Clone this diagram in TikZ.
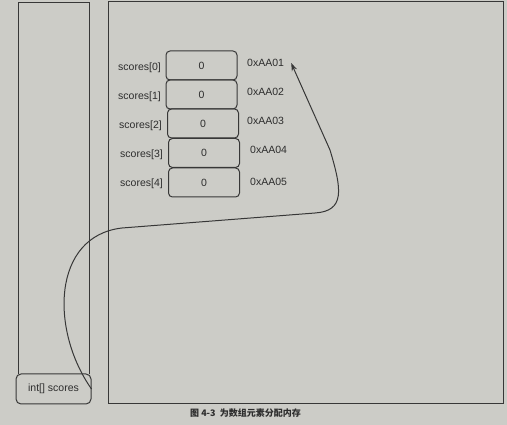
\documentclass[tikz,border=0pt]{standalone}
\usepackage{fontspec}
\setmainfont{Liberation Sans}
\newfontfamily\cjkfont{Noto Sans CJK SC}
\usetikzlibrary{arrows.meta}
\definecolor{paper}{RGB}{204,204,199}
\definecolor{ink}{RGB}{55,55,55}
\definecolor{txt}{RGB}{45,45,45}
\tikzset{
  box/.style={draw=ink, line width=1pt},
  cell/.style={draw=ink, line width=1pt, rounded corners=4pt, minimum width=71pt, minimum height=29pt, inner sep=0pt, font=\fontsize{10.5}{12}\selectfont, text=txt},
  lbl/.style={anchor=east, inner sep=0pt, font=\fontsize{10.5}{12}\selectfont, text=txt},
  addr/.style={anchor=west, inner sep=0pt, font=\fontsize{10.5}{12}\selectfont, text=txt},
  link/.style={draw=ink, line width=1pt, -{Stealth[length=8pt,width=5.5pt]}}
}
\begin{document}
\begin{tikzpicture}[x=1pt,y=-1pt]
\useasboundingbox (0,0) rectangle (507,425);
\fill[paper] (0,0) rectangle (507,425);
% stack column and heap box
\draw[box] (18,374) -- (18,3) -- (89,3) -- (89,374);
\node[box, rounded corners=5pt, minimum width=75pt, minimum height=30pt, inner sep=0pt, font=\fontsize{10.5}{12}\selectfont, text=txt] (int) at (53.5,389) {int[] scores};
\draw[box] (108,2) rectangle (503,404);
% array cells
\node[cell] (c0) at (201.5,65.5) {0};
\node[cell] (c1) at (201.5,94.5) {0};
\node[cell] (c2) at (203,123.5) {0};
\node[cell] (c3) at (204,153) {0};
\node[cell] (c4) at (204,182.5) {0};
\node[lbl] (l0) at (161,68) {scores[0]};
\node[lbl] (l1) at (161,97) {scores[1]};
\node[lbl] (l2) at (162,126) {scores[2]};
\node[lbl] (l3) at (163,155) {scores[3]};
\node[lbl] (l4) at (163,184) {scores[4]};
\node[addr] (a0) at (247,63) {0xAA01};
\node[addr] (a1) at (247,92) {0xAA02};
\node[addr] (a2) at (247,121) {0xAA03};
\node[addr] (a3) at (250,150) {0xAA04};
\node[addr] (a4) at (250,182) {0xAA05};
% reference connector
\coordinate (bend1) at (122,228);
\coordinate (bend2) at (315,213);
\coordinate (bend3) at (330,150);
\draw[link] (int.east) .. controls (50,330) and (52,236) .. (bend1) -- (bend2)
  .. controls (345,211) and (342,190) .. (bend3) -- ([xshift=7pt]a0.east);
% caption
\node[inner sep=0pt, anchor=west, font=\cjkfont\bfseries\fontsize{9}{10}\selectfont, text=txt] (cap) at (190,413) {图 4-3 \ 为数组元素分配内存};
\end{tikzpicture}
\end{document}
